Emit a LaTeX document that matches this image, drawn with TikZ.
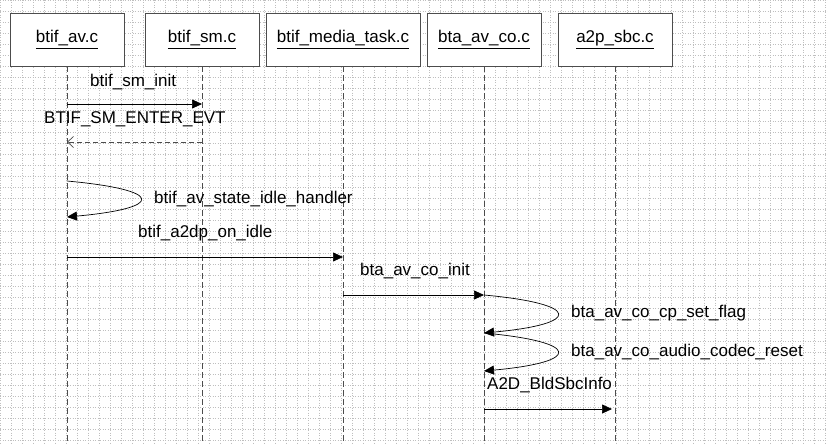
\documentclass[tikz,border=0pt]{standalone}
\usepackage{fontspec}
\setmainfont{Liberation Sans}
\usetikzlibrary{arrows.meta}
\begin{document}
\begin{tikzpicture}[x=1pt,y=-1pt,font=\fontsize{17}{19}\selectfont,
  obj/.style={draw=black!70,fill=white,minimum width=114pt,minimum height=53pt,inner sep=0pt,line width=0.8pt},
  life/.style={draw=black!70,dash pattern=on 6pt off 3pt,line width=0.8pt},
  msg/.style={draw=black,line width=0.7pt,-{Triangle[length=10pt,width=9pt]}},
  ret/.style={draw=black!70,dash pattern=on 5pt off 3pt,line width=0.7pt,-{Straight Barb[length=6pt,width=11pt]}},
  lbl/.style={anchor=west,inner sep=0pt},
  gridl/.style={draw=black!25,line width=0.5pt,dash pattern=on 1pt off 1.5pt}]
\useasboundingbox (0,0) rectangle (828,444);
\fill[white] (0,0) rectangle (828,444);
\foreach \i in {0,11,...,828} \draw[gridl] (\i,0) -- (\i,444);
\foreach \i in {0,11,...,444} \draw[gridl] (0,\i) -- (828,\i);
\node[obj] (a) at (67,39.5) {\underline{btif\_av.c}};
\node[obj] (b) at (202,39.5) {\underline{btif\_sm.c}};
\node[obj,minimum width=154pt] (c) at (343,39.5) {\underline{btif\_media\_task.c}};
\node[obj] (d) at (484,39.5) {\underline{bta\_av\_co.c}};
\node[obj] (e) at (615,39.5) {\underline{a2p\_sbc.c}};
\foreach \n/\x in {a/67,b/202,c/343,d/484,e/615}{
  \coordinate (\n end) at (\x,444);
  \draw[life] (\n.south) -- (\n end);
}
\coordinate (a1) at (67,104); \coordinate (b1) at (202,104);
\coordinate (a2) at (67,142); \coordinate (b2) at (202,142);
\coordinate (a3) at (67,181); \coordinate (a4) at (67,217);
\coordinate (a5) at (67,257); \coordinate (c5) at (343,257);
\coordinate (c6) at (343,295); \coordinate (d6) at (484,295);
\coordinate (d7) at (484,333); \coordinate (d8) at (484,371);
\coordinate (d9) at (484,409); \coordinate (e9) at (612,409);
\draw[msg] (a1) -- (b1);
\node[lbl] (l1) at (90,82) {btif\_sm\_init};
\node[lbl] (l2) at (44,119) {BTIF\_SM\_ENTER\_EVT};
\draw[ret] (b2) -- (a2);
\draw[msg] (a3) .. controls (165,190) and (165,208) .. (a4);
\node[lbl] (l3) at (154,199) {btif\_av\_state\_idle\_handler};
\draw[msg] (a5) -- (c5);
\node[lbl] (l4) at (138,233) {btif\_a2dp\_on\_idle};
\draw[msg] (c6) -- (d6);
\node[lbl] (l5) at (360,271) {bta\_av\_co\_init};
\draw[msg] (d6) .. controls (582,304) and (582,324) .. (d7);
\node[lbl] (l6) at (571,313) {bta\_av\_co\_cp\_set\_flag};
\draw[msg] (d7) .. controls (582,342) and (582,362) .. (d8);
\node[lbl] (l7) at (571,352) {bta\_av\_co\_audio\_codec\_reset};
\node[lbl] (l8) at (487,385) {A2D\_BldSbcInfo};
\draw[msg] (d9) -- (e9);
\end{tikzpicture}
\end{document}
